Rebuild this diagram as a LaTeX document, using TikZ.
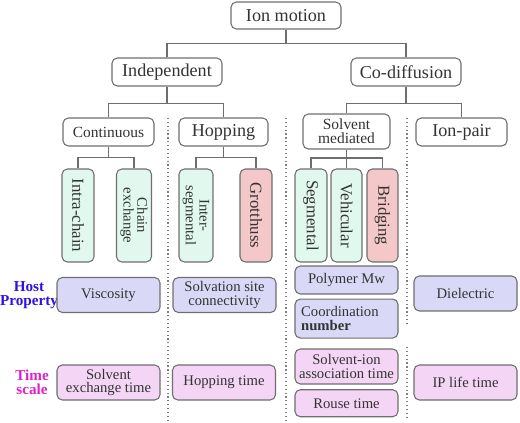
\documentclass[tikz,border=0pt]{standalone}
\usepackage{fontspec}
\setmainfont{Liberation Serif}
\usepackage{xcolor}
\usetikzlibrary{positioning,calc}

\definecolor{boxline}{HTML}{6E6E6E}
\definecolor{leafgreen}{HTML}{E0F8EE}
\definecolor{leafred}{HTML}{F4C8C8}
\definecolor{hostblue}{HTML}{D9D9F7}
\definecolor{timepink}{HTML}{F5D5F5}
\definecolor{hosttext}{HTML}{3311DD}
\definecolor{timetext}{HTML}{DD22CC}

\tikzset{
  cat/.style={draw=boxline, line width=0.8pt, rounded corners=4pt, fill=white,
    align=center, inner sep=0pt, text=black!80, font=\fontsize{13.6}{14}\selectfont},
  sub/.style={cat, font=\fontsize{11.6}{10.6}\selectfont},
  leaf/.style={draw=boxline, line width=0.8pt, rounded corners=4pt, rotate=-90,
    align=center, inner sep=0pt, minimum width=69.75pt, text=black!80,
    font=\fontsize{12.6}{10}\selectfont},
  prop/.style={draw=boxline, line width=0.8pt, rounded corners=4pt, align=center,
    inner sep=0pt, minimum width=77.25pt, text=black!80,
    font=\fontsize{11}{10.4}\selectfont},
  link/.style={draw=boxline, line width=0.8pt},
  sep/.style={draw=gray, line width=0.9pt, dotted}
}

\begin{document}
\begin{tikzpicture}[x=0.75pt, y=-0.75pt]
\useasboundingbox (0,0) rectangle (520,423);

% top of the tree
\node[cat, minimum width=82.5pt, minimum height=20.25pt] (ion) at (286,15.5) {Ion motion};
\node[cat, minimum width=82.5pt, minimum height=21pt] (indep) at (167,72) {Independent};
\node[cat, minimum width=82.5pt, minimum height=21pt] (codiff) at (406,72) {Co-diffusion};

\node[sub, minimum width=68.25pt, minimum height=21pt] (cont) at (108.5,132) {Continuous};
\node[cat, minimum width=66.75pt, minimum height=21pt] (hop) at (223.5,132) {Hopping};
\node[sub, minimum width=65.25pt, minimum height=26.25pt] (solv) at (346.5,131.5) {Solvent\\mediated};
\node[cat, minimum width=68.25pt, minimum height=21pt] (ipair) at (461.5,132) {Ion-pair};

% vertical leaves
\node[leaf, fill=leafgreen, minimum height=24pt] (intra) at (78,215.5) {Intra-chain};
\node[leaf, fill=leafgreen, minimum height=26.25pt, font=\fontsize{11}{10.2}\selectfont] (chainx) at (134,215.5) {Chain\\exchange};
\node[leaf, fill=leafgreen, minimum height=25.5pt, font=\fontsize{11}{10.2}\selectfont] (inter) at (196,215.5) {Inter-\\segmental};
\node[leaf, fill=leafred, minimum height=24pt] (grott) at (256,215.5) {Grotthuss};
\node[leaf, fill=leafgreen, minimum height=24pt] (segm) at (311,215.5) {Segmental};
\node[leaf, fill=leafgreen, minimum height=23.25pt] (vehic) at (346.5,215.5) {Vehicular};
\node[leaf, fill=leafred, minimum height=23.25pt] (bridg) at (382.5,215.5) {Bridging};

% host property row
\node[font=\bfseries\fontsize{11.4}{10.6}\selectfont, text=hosttext, align=center] (hostlab) at (29,295) {Host\\Property};
\node[prop, fill=hostblue, minimum height=26.25pt] (visc) at (108.5,295) {Viscosity};
\node[prop, fill=hostblue, minimum height=26.25pt] (site) at (224.5,295) {Solvation site\\connectivity};
\node[prop, fill=hostblue, minimum height=21pt] (polmw) at (346.5,280) {Polymer Mw};
\node[prop, fill=hostblue, minimum height=29.25pt, below=3pt of polmw, align=left,
  text width=68pt] (coord) {Coordination\\\textbf{number}};
\node[prop, fill=hostblue, minimum height=26.25pt] (diel) at (465.5,293.5) {Dielectric};

% time scale row
\node[font=\bfseries\fontsize{11.4}{10.6}\selectfont, text=timetext, align=center] (timelab) at (32,382) {Time\\scale};
\node[prop, fill=timepink, minimum height=26.25pt] (solvx) at (108.5,382.5) {Solvent\\exchange time};
\node[prop, fill=timepink, minimum height=26.25pt] (hoptime) at (224,382.5) {Hopping time};
\node[prop, fill=timepink, minimum height=26.25pt] (assoc) at (346.5,366.5) {Solvent-ion\\association time};
\node[prop, fill=timepink, minimum height=20.25pt, below=3.5pt of assoc] (rouse) {Rouse time};
\node[prop, fill=timepink, minimum height=26.25pt] (iplife) at (465.5,382.5) {IP life time};

% tree connectors
\draw[link] (ion.south) -- ++(0,14) coordinate (j0);
\draw[link] (indep.north) |- (j0) -| (codiff.north);
\draw[link] (indep.south) -- ++(0,17) coordinate (j1);
\draw[link] (cont.north) |- (j1) -| (hop.north);
\draw[link] (codiff.south) -- ++(0,17) coordinate (j2);
\draw[link] (solv.north) |- (j2) -| (ipair.north);
\draw[link] (cont.south) -- ++(0,11) coordinate (j3);
\draw[link] (intra.west) |- (j3) -| (chainx.west);
\draw[link] (hop.south) -- ++(0,11) coordinate (j4);
\draw[link] (inter.west) |- (j4) -| (grott.west);
\draw[link] (solv.south) -- (vehic.west);
\draw[link] (segm.west) |- ($(solv.south)+(0,8.5)$) -| (bridg.west);

% dotted separators
\draw[sep] (168,118) -- (168,420);
\draw[sep] (286,118) -- (286,420);
\draw[sep] (407,118) -- (407,325);
\draw[sep] (407,347) -- (407,420);
\end{tikzpicture}
\end{document}
